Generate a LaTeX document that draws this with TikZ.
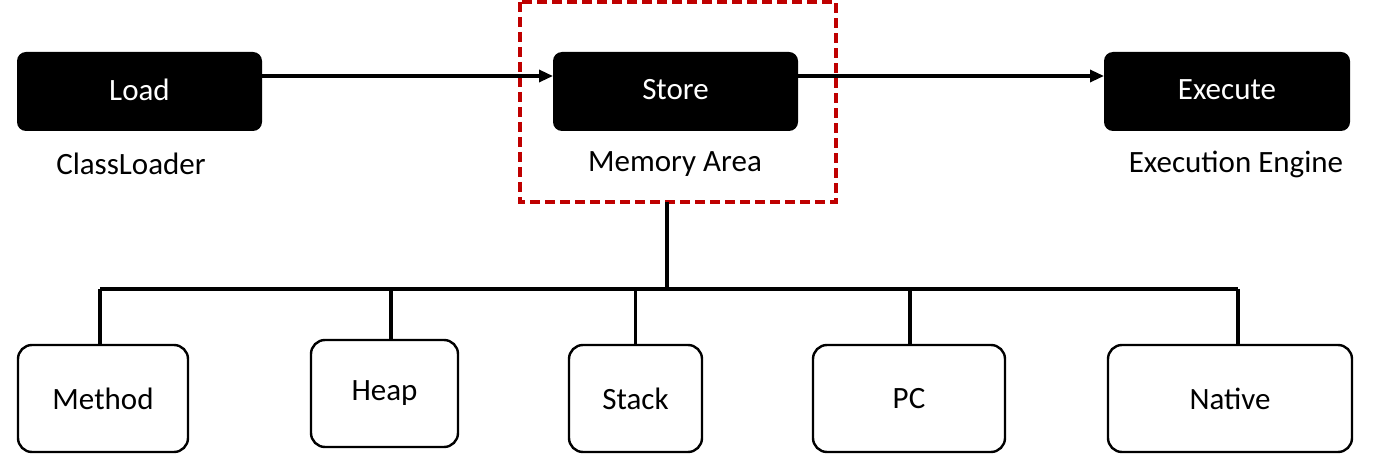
\documentclass[tikz,border=0pt]{standalone}
\usepackage{fontspec}
\setmainfont{Carlito}
\usetikzlibrary{arrows.meta}
\begin{document}
\begin{tikzpicture}[x=1pt,y=-1pt,
 top/.style={fill=black,text=white,rounded corners=9pt,font=\fontsize{31}{33}\selectfont,inner sep=0pt,text depth=4pt},
 bot/.style={draw=black,line width=2.4pt,fill=white,rounded corners=14pt,font=\fontsize{31}{33}\selectfont,inner sep=0pt},
 lab/.style={font=\fontsize{31}{33}\selectfont},
 ln/.style={line width=3.2pt},
 arr/.style={ln,-{Triangle[length=14pt,width=12pt]}}]
\useasboundingbox (0,0) rectangle (1400,454);
\node[top,minimum width=245pt,minimum height=79pt] (load) at (139.5,91.5) {Load};
\node[top,minimum width=245pt,minimum height=79pt] (store) at (675.5,91.5) {Store};
\node[top,minimum width=246pt,minimum height=79pt] (exec) at (1227,91.5) {Execute};
\node[lab] (l1) at (131,164) {ClassLoader};
\node[lab] (l2) at (675,164) {Memory Area};
\node[lab] (l3) at (1236,164) {Execution Engine};
\draw[red!75!black,line width=3.4pt,dash pattern=on 10pt off 5pt] (520,2) rectangle (836,202);
\coordinate (a1) at (262,76); \coordinate (a2) at (553,76);
\coordinate (b1) at (798,76); \coordinate (b2) at (1104,76);
\draw[arr] (a1) -- (a2);
\draw[arr] (b1) -- (b2);
\node[bot,minimum width=170pt,minimum height=107pt] (m) at (103,398.5) {Method};
\node[bot,minimum width=147pt,minimum height=107pt] (h) at (384.5,393.5) {Heap};
\node[bot,minimum width=133pt,minimum height=107pt] (s) at (635.5,398.5) {Stack};
\node[bot,minimum width=192pt,minimum height=107pt] (p) at (909,398.5) {PC};
\node[bot,minimum width=244pt,minimum height=107pt] (n) at (1230,398.5) {Native};
\coordinate (t) at (667,202); \coordinate (j) at (667,289);
\coordinate (hl) at (100,289); \coordinate (hr) at (1238,289);
\draw[ln] (t) -- (j);
\draw[ln] (hl) -- (hr);
\draw[ln] (hl) -- (hl|-m.north);
\draw[ln] (391,289) -- (391,340);
\draw[ln] (635.5,289) -- (s.north);
\draw[ln] (910,289) -- (910,345);
\draw[ln] (hr) -- (1238,345);
\end{tikzpicture}
\end{document}
